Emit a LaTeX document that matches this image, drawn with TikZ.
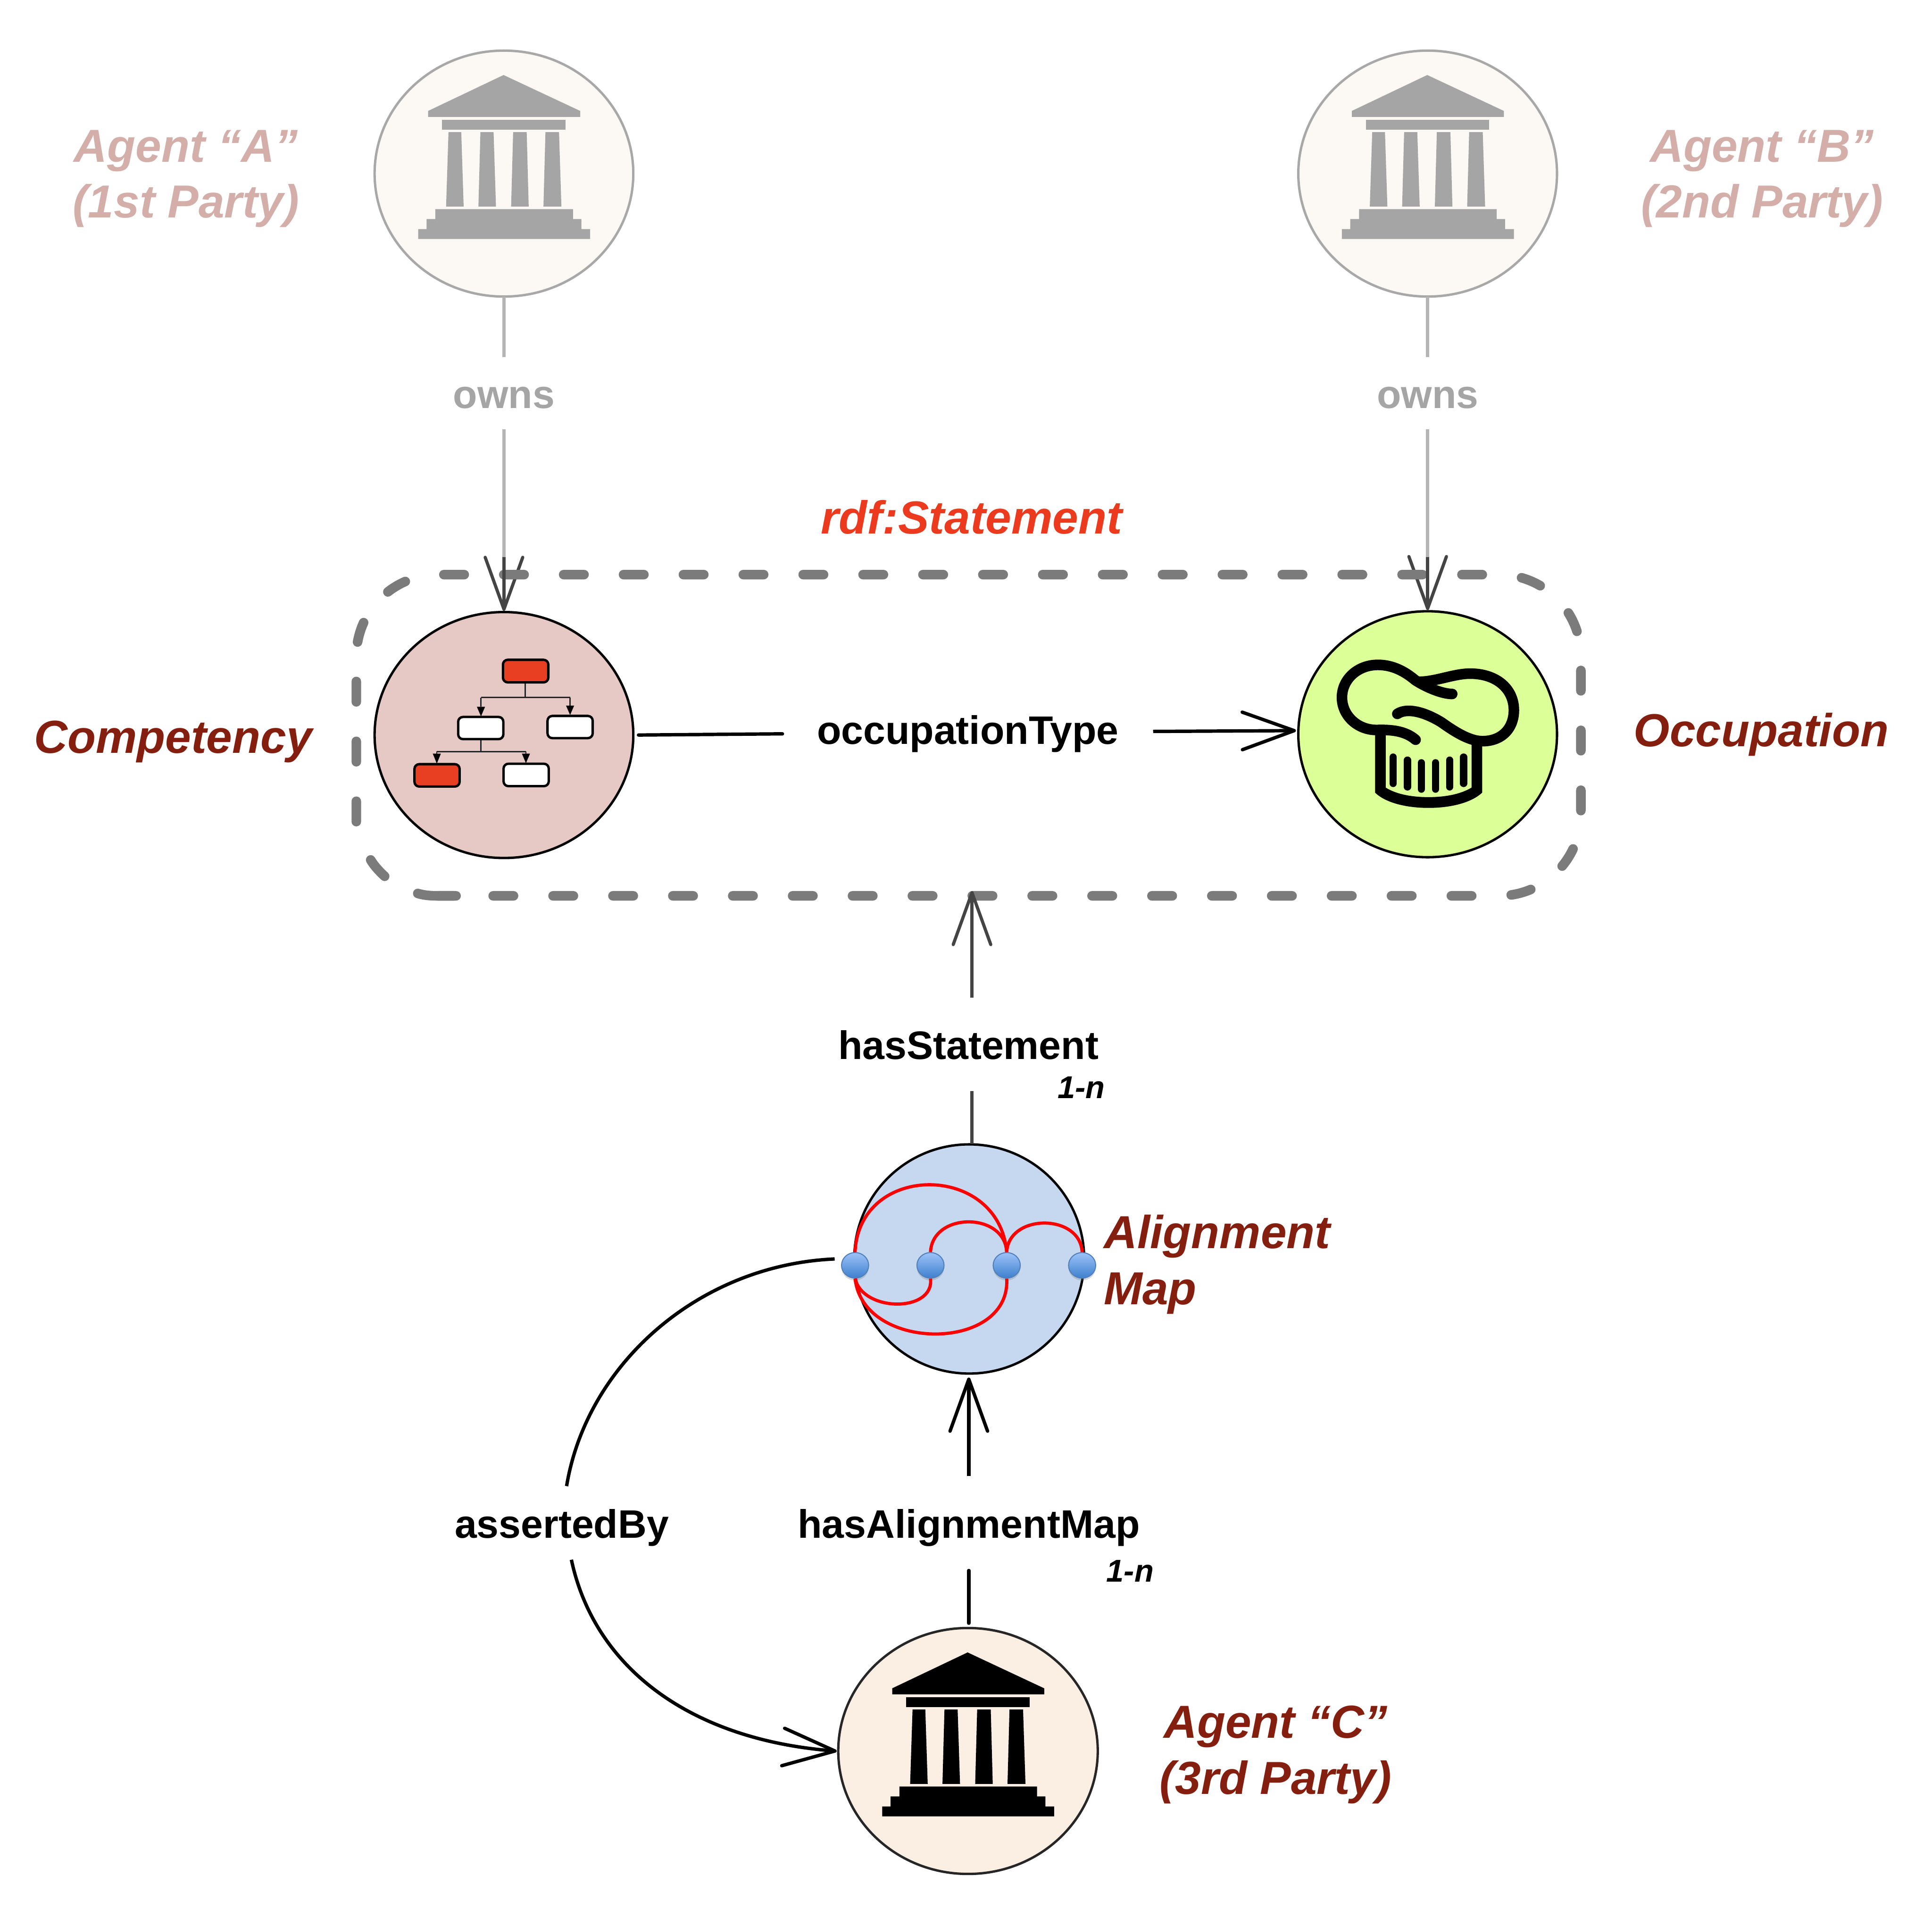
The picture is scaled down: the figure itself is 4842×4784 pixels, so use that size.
\documentclass[tikz,border=0pt]{standalone}
\usepackage{fontspec}
\setmainfont{Liberation Sans}
\usetikzlibrary{shapes.geometric,arrows.meta,shadows}
\definecolor{darkred}{HTML}{841F10}
\definecolor{paleagent}{HTML}{D4AEA8}
\definecolor{rdfred}{HTML}{EC3A1E}
\definecolor{dashgrey}{HTML}{7B7B7B}
\definecolor{templegrey}{HTML}{A5A5A5}
\definecolor{ownsgrey}{HTML}{B5B5B5}
\definecolor{headgrey}{HTML}{444444}
\definecolor{boxred}{HTML}{E83F22}
\newcommand{\templeicon}[3]{%
  \begin{scope}[shift={(#1,#2)}]
    \fill[#3] (-1,-247) -- (191,-157) -- (191,-142) -- (-190,-142) -- (-190,-157) -- cycle;
    \fill[#3] (-155,-135) rectangle (154,-110);
    \fill[#3] (-139,-104) -- (-107,-104) -- (-101,82.5) -- (-145,82.5) -- cycle;
    \fill[#3] (-59,-104) -- (-26,-104) -- (-20,82.5) -- (-64,82.5) -- cycle;
    \fill[#3] (23,-104) -- (57,-104) -- (62,82.5) -- (18,82.5) -- cycle;
    \fill[#3] (104,-104) -- (138,-104) -- (144,82.5) -- (99,82.5) -- cycle;
    \fill[#3] (-172,89) -- (173,89) -- (173,114) -- (194,114) -- (194,139) -- (216,139) -- (216,164)
      -- (-215,164) -- (-215,139) -- (-194,139) -- (-194,114) -- (-172,114) -- cycle;
  \end{scope}}
\tikzset{
  disc/.style={ellipse,inner sep=0pt,minimum width=6.48cm,minimum height=6.16cm,line width=0.06cm},
  bigtag/.style={anchor=base,align=center,inner sep=0pt,font=\fontsize{33}{39.8}\selectfont\bfseries\itshape},
  leftbigtag/.style={bigtag,align=left},
  reltag/.style={inner sep=0pt,font=\fontsize{28.3}{34}\selectfont\bfseries},
  cardtag/.style={anchor=base,inner sep=0pt,font=\fontsize{22.5}{26}\selectfont\bfseries\itshape},
  barbhead/.style={-{Straight Barb[length=1.3cm,width=0.94cm,round]},shorten >=-0.05cm},
  blackline/.style={draw=black,line width=0.085cm},
  greyline/.style={draw=ownsgrey,line width=0.08cm},
  darkline/.style={draw=headgrey,line width=0.08cm},
  redarc/.style={draw=red,line width=0.08cm},
  dashbox/.style={draw=dashgrey,line width=0.24cm,line cap=round},
  mapdot/.style={ellipse,inner sep=0pt,minimum width=0.68cm,minimum height=0.64cm,draw={rgb,255:red,80;green,128;blue,188},line width=0.025cm,
    top color={rgb,255:red,157;green,195;blue,249},bottom color={rgb,255:red,62;green,128;blue,206},
    drop shadow={shadow xshift=0cm,shadow yshift=-0.06cm,opacity=0.3}},
  orgbox/.style={draw=black,line width=0.06cm,rounded corners=0.12cm},
  orgline/.style={draw=black!85,line width=0.03cm}
}
\begin{document}
\begin{tikzpicture}[x=0.01cm,y=-0.01cm]
\useasboundingbox (0,0) rectangle (4842,4784);

% agents and classes
\node[disc,draw={rgb,255:red,168;green,168;blue,168},fill={rgb,255:red,252;green,249;blue,244}] (agentA) at (1263,435) {};
\node[disc,draw={rgb,255:red,168;green,168;blue,168},fill={rgb,255:red,252;green,249;blue,244}] (agentB) at (3578,435) {};
\node[disc,draw=black,fill={rgb,255:red,230;green,200;blue,196}] (compet) at (1263,1842) {};
\node[disc,draw=black,fill={rgb,255:red,220;green,255;blue,152}] (occup) at (3578,1840) {};
\node[disc,draw=black,fill={rgb,255:red,198;green,216;blue,240},minimum width=5.76cm,minimum height=5.74cm] (almap) at (2429,3155) {};
\node[disc,draw=black!85,fill={rgb,255:red,251;green,238;blue,226},minimum width=6.5cm,minimum height=6.16cm] (agentC) at (2426,4388) {};

\templeicon{1263}{435}{templegrey}
\templeicon{3578}{435}{templegrey}
\templeicon{2426}{4388}{black}

% organisation chart icon
\begin{scope}[shift={(850,1400)},x=0.0051020cm,y=-0.0051020cm]
  \draw[orgline] (915,608) -- (915,682);
  \draw[orgline] (697,682) -- (1135,682);
  \draw[orgline] (697,682) -- (697,728);
  \draw[orgline] (1135,682) -- (1135,722);
  \draw[orgline] (697,887) -- (697,948);
  \draw[orgline] (480,948) -- (918,948);
  \draw[orgline] (480,948) -- (480,958);
  \draw[orgline] (918,948) -- (918,958);
  \fill (677,728) -- (717,728) -- (697,775) -- cycle;
  \fill (1115,722) -- (1155,722) -- (1135,768) -- cycle;
  \fill (460,958) -- (500,958) -- (480,1007) -- cycle;
  \fill (898,958) -- (938,958) -- (918,1005) -- cycle;
  \draw[orgbox,fill=boxred] (805,497) rectangle (1028,608);
  \draw[orgbox,fill=white] (585,778) rectangle (807,887);
  \draw[orgbox,fill=white] (1024,773) rectangle (1246,882);
  \draw[orgbox,fill=boxred] (370,1010) rectangle (592,1120);
  \draw[orgbox,fill=white] (808,1008) rectangle (1030,1118);
\end{scope}

% chef hat icon
\begin{scope}[shift={(3200,1400)},x=0.0051020cm,y=-0.0051020cm]
  \draw[line width=0.265cm,line cap=round,line join=round]
    (862,665) .. controls (810,665) and (730,630) .. (680,597)
    .. controls (630,555) and (570,522) .. (497,522)
    .. controls (395,522) and (320,595) .. (320,682)
    .. controls (320,770) and (395,842) .. (490,842)
    .. controls (560,840) and (630,845) .. (682,890);
  \draw[line width=0.265cm,line cap=round,line join=round]
    (592,763) .. controls (640,730) and (730,755) .. (810,805)
    .. controls (880,855) and (950,897) .. (1010,897)
    .. controls (1110,897) and (1165,830) .. (1165,745)
    .. controls (1165,640) and (1080,565) .. (950,565)
    .. controls (870,565) and (780,605) .. (700,605);
  \fill (483,865) -- (483,1150) .. controls (540,1205) and (650,1225) .. (745,1225)
    .. controls (840,1225) and (950,1205) .. (1009,1150) -- (1009,920) -- (957,905) -- (957,1125)
    .. controls (900,1160) and (820,1172) .. (745,1172)
    .. controls (670,1172) and (590,1160) .. (535,1125) -- (535,865) -- cycle;
  \foreach \hx/\hy/\hz in {572/975/1105,642/990/1122,710/1003/1133,780/1003/1133,849/990/1122,918/975/1105}
    \draw[line width=0.18cm,line cap=round] (\hx,\hy) -- (\hx,\hz);
\end{scope}

% relation labels (their height spans the gap in the connector)
\node[reltag,text=templegrey,minimum height=1.79cm,text height=1.05cm,text depth=0.3cm] (ownsA) at (1263,985.5) {owns};
\node[reltag,text=templegrey,minimum height=1.79cm,text height=1.05cm,text depth=0.3cm] (ownsB) at (3578,985.5) {owns};
\node[reltag,minimum width=9.27cm,text height=0.88cm,text depth=0.3cm] (occtype) at (2425.5,1836) {occupationType};
\node[reltag,minimum height=2.32cm,text height=1.06cm,text depth=0.3cm] (hasstmt) at (2436,2617) {\hspace*{-0.18cm}hasStatement};
\node[reltag,minimum height=2.35cm,text height=1.03cm,text depth=0.3cm] (hasmap) at (2428,3817.5) {hasAlignmentMap};
\node[reltag,minimum height=1.83cm,text height=1.05cm,text depth=0.3cm] (asserted) at (1408,3816.5) {assertedBy};

% owns connectors
\coordinate (headA) at (1263,1396);
\coordinate (headB) at (3578,1396);
\draw[greyline] (agentA.south) ++(0,-3) -- (ownsA.north);
\draw[greyline] (agentB.south) ++(0,-3) -- (ownsB.north);
\draw[greyline] (ownsA.south) -- (headA);
\draw[greyline] (ownsB.south) -- (headB);
\draw[darkline,barbhead] (headA) -- ([yshift=0.05cm]compet.north);
\draw[darkline,barbhead] (headB) -- ([yshift=0.05cm]occup.north);

% statement boundary
\draw[dashbox,dash pattern=on 0.51cm off 0.99cm,rounded corners=2.05cm]
  (893,2059) -- (893,1440) -- (3962,1440) -- (3962,2245) -- (1098,2245);
\draw[dashbox] (1143,2245) -- (1098,2245) .. controls (1075,2245) and (1060,2243) .. (1047,2239);
\draw[dashbox] (964,2196) .. controls (950,2183) and (938,2170) .. (929,2155);
\coordinate (stmtedge) at (2436,2238);
\draw[darkline] (headA) -- ([yshift=0.05cm]compet.north);
\draw[darkline] (headB) -- ([yshift=0.05cm]occup.north);

% other connectors
\draw[blackline,line cap=round] ([xshift=0.10cm]compet.east) -- ([yshift=-0.03cm]occtype.west);
\draw[blackline,barbhead] ([yshift=0.03cm]occtype.east) -- ([xshift=-0.08cm,yshift=0.09cm]occup.west);
\draw[darkline,barbhead] (hasstmt.north) -- (stmtedge);
\draw[darkline] (hasstmt.south) -- ([yshift=-0.02cm]almap.north -| hasstmt.south);
\draw[blackline,barbhead] (hasmap.north) -- ([yshift=-0.12cm]almap.south -| hasmap.north);
\draw[blackline,line cap=round] (hasmap.south) -- ([yshift=0.09cm]agentC.north -| hasmap.south);
\draw[blackline] ([xshift=-0.46cm]almap.west) .. controls (1750,3170) and (1470,3420) .. ([xshift=0.12cm]asserted.north);
\draw[blackline,barbhead] ([xshift=0.24cm]asserted.south) .. controls (1490,4180) and (1730,4360) .. ([xshift=-0.06cm]agentC.west);

% alignment map internals
\node[mapdot] (dot1) at (2143,3171) {};
\node[mapdot] (dot2) at (2332,3171) {};
\node[mapdot] (dot3) at (2523,3171) {};
\node[mapdot] (dot4) at (2712,3171) {};
\draw[redarc] (dot1.north) .. controls +(10,-225) and +(-20,-225) .. (dot3.north);
\draw[redarc] (dot2.north) .. controls +(5,-101) and +(-5,-101) .. (dot3.north);
\draw[redarc] (dot3.north) .. controls +(5,-97) and +(-5,-97) .. (dot4.north);
\draw[redarc] (dot1.south) .. controls +(20,85) and +(10,85) .. (dot2.south);
\draw[redarc] (dot1.south) .. controls +(20,185) and +(10,185) .. (dot3.south);

% captions (multi-line captions are placed by the baseline of their last line)
\node[bigtag,text=paleagent] (capA) at (466,546) {Agent “A”\\(1st Party)};
\node[bigtag,text=paleagent] (capB) at (4416,546) {Agent “B”\\(2nd Party)};
\node[bigtag,text=darkred] (capComp) at (434,1887) {Competency};
\node[bigtag,text=darkred] (capOcc) at (4414,1871) {Occupation};
\node[bigtag,text=rdfred] (capStmt) at (2435,1337) {rdf:Statement};
\node[leftbigtag,text=darkred,anchor=base west] (capMap) at (2766,3269) {Alignment\\Map};
\node[bigtag,text=darkred] (capC) at (3197,4496) {Agent “C”\\(3rd Party)};
\node[cardtag] (cardA) at (2710,2752) {1-n};
\node[cardtag] (cardB) at (2832,3964) {1-n};
\end{tikzpicture}
\end{document}
